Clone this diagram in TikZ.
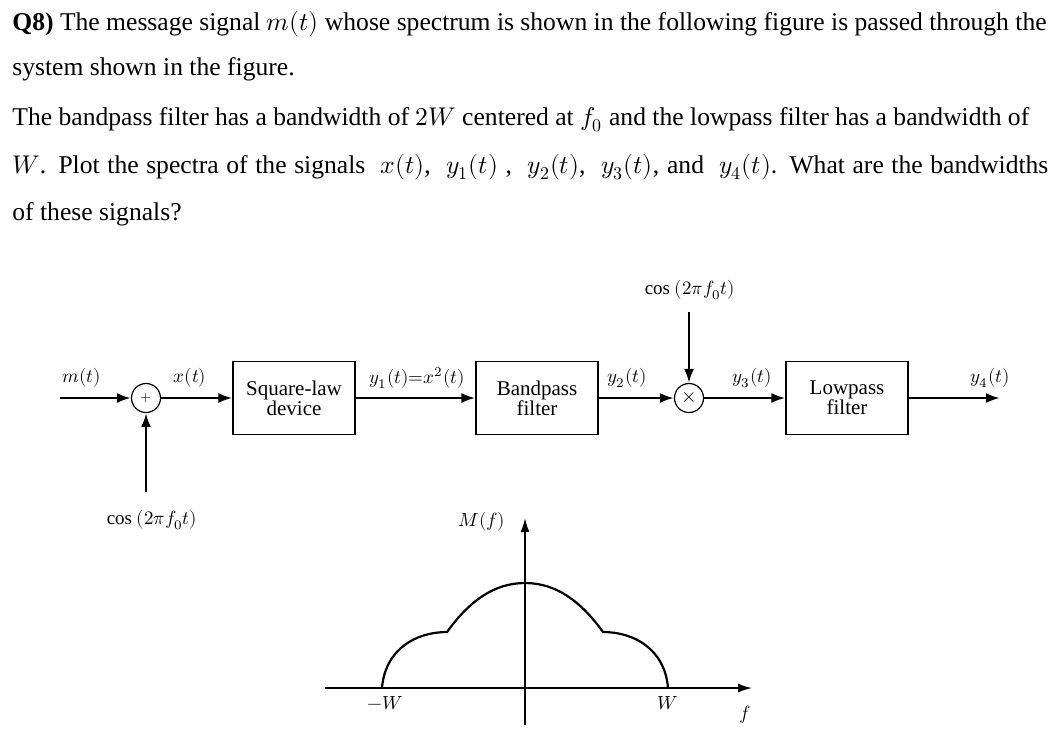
\documentclass[tikz,border=0pt]{standalone}
\usepackage{fontspec}
\setmainfont{Liberation Serif}
\usepackage{unicode-math}
\setmathfont{Latin Modern Math}
\usetikzlibrary{arrows.meta}
\begin{document}
\begin{tikzpicture}[x=0.5pt,y=-0.5pt,
  txt/.style={anchor=base west,inner sep=0,font=\fontsize{12.8}{14}\selectfont},
  lbl/.style={inner sep=0,font=\fontsize{9.5}{10}\selectfont},
  blk/.style={draw,line width=0.6pt,minimum width=61pt,minimum height=36.5pt,align=center,inner sep=0,font=\fontsize{10.5}{10}\selectfont},
  sum/.style={draw,circle,line width=0.6pt,minimum size=14.5pt,inner sep=0},
  arr/.style={-{Latex[length=7pt,width=5pt]},line width=1.2pt}]
\useasboundingbox (0,0) rectangle (1063,730);
\node[txt] (l1) at (12,30) {\textbf{Q8)} The message signal $m(t)$ whose spectrum is shown in the following figure is passed through the};
\node[txt] (l2) at (12,75) {system shown in the figure.};
\node[txt] (l3) at (12,125) {The bandpass filter has a bandwidth of $2W$ centered at $f_0$ and the lowpass filter has a bandwidth of};
\node[txt] (l4) at (12,173) {\hbox to 518pt{$W$. Plot the spectra of the signals \ $x(t)$, \ $y_1(t)$ , \ $y_2(t)$, \ $y_3(t)$, and \ $y_4(t)$. What are the bandwidths}};
\node[txt] (l5) at (12,220) {of these signals?};
% block diagram
\coordinate (in) at (60,398);
\node[sum] (add) at (146,398) {\scriptsize $+$};
\node[blk] (sq) at (294,398) {Square-law\\device};
\node[blk] (bp) at (537,398) {Bandpass\\filter};
\node[sum] (mul) at (689,398) {$\times$};
\node[blk] (lp) at (847,398) {Lowpass\\filter};
\coordinate (out) at (1000,398);
\coordinate (c1) at (146,492);
\coordinate (c2) at (689,312);
\draw[arr] (in) -- (add);
\draw[arr] (add) -- (sq);
\draw[arr] (sq) -- (bp);
\draw[arr] (bp) -- (mul);
\draw[arr] (mul) -- (lp);
\draw[arr] (lp) -- (out);
\draw[arr] (c1) -- (add);
\draw[arr] (c2) -- (mul);
\node[lbl] (lm) at (82,378) {$m(t)$};
\node[lbl] (lx) at (190,378) {$x(t)$};
\node[lbl] (ly1) at (417,378) {$y_1(t){=}x^2(t)$};
\node[lbl] (ly2) at (627,378) {$y_2(t)$};
\node[lbl] (ly3) at (752,378) {$y_3(t)$};
\node[lbl] (ly4) at (990,378) {$y_4(t)$};
\node[lbl] (cb) at (152,520) {cos $(2\pi f_0 t)$};
\node[lbl] (ct) at (690,290) {cos $(2\pi f_0 t)$};
% spectrum
\coordinate (xl) at (325,688); \coordinate (xr) at (752,688);
\coordinate (yb) at (525,725); \coordinate (yt) at (525,518);
\draw[-{Latex[length=7pt,width=4.5pt]},line width=0.8pt] (xl) -- (xr);
\draw[-{Latex[length=7pt,width=4.5pt]},line width=0.8pt] (yb) -- (yt);
\draw[line width=1.1pt] (382,688) .. controls (385,650) and (415,632) .. (447,632)
  .. controls (470,600) and (495,583) .. (525,583)
  .. controls (555,583) and (580,600) .. (603,632)
  .. controls (635,632) and (665,650) .. (668,688);
\node[lbl] (mf) at (482,522) {$M(f)$};
\node[lbl] (mw) at (385,703) {$-W$};
\node[lbl] (pw) at (668,703) {$W$};
\node[lbl] (fl) at (745,715) {$f$};
\end{tikzpicture}
\end{document}
